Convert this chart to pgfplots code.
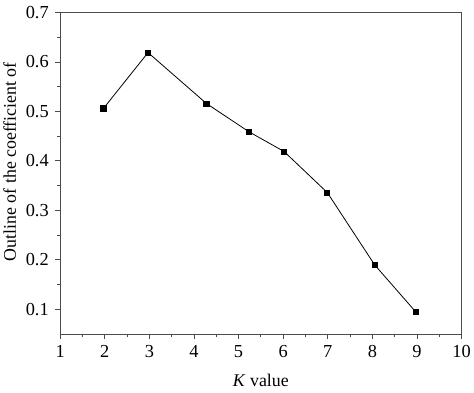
\documentclass[border=0pt]{standalone}
\usepackage{pgfplots}
\pgfplotsset{compat=1.18}
\usepackage{fontspec}
\setmainfont{Liberation Serif}
\begin{document}
\begin{tikzpicture}
\begin{axis}[
  scale only axis,
  width=403.6bp, height=323.3bp,
  xmin=1, xmax=10, ymin=0.05, ymax=0.7,
  xtick={1,2,...,10},
  ytick={0.1,0.2,...,0.7},
  yticklabel style={/pgf/number format/fixed, /pgf/number format/precision=1, xshift=-3bp},
  xticklabel style={yshift=-3bp},
  /pgf/number format/assume math mode=true,
  minor x tick num=1, minor y tick num=1,
  tick align=outside,
  xtick pos=bottom, ytick pos=left,
  major tick length=5bp, minor tick length=3bp,
  axis line style={black!70, line width=0.9bp},
  tick style={black!70, line width=0.8bp},
  ticklabel style={font=\fontsize{18.5}{20}\selectfont},
  label style={font=\fontsize{18}{20}\selectfont},
  xlabel={\textit{K} value},
  xlabel style={yshift=-10bp},
  ylabel={Outline of the coefficient of},
  ylabel style={at={(ticklabel cs:0.536)}, yshift=3bp},
]
\addplot[black, line width=0.8bp, mark=square*, mark size=2.6bp] coordinates {
  (1.97,0.506) (2.97,0.619) (4.28,0.516) (5.23,0.459) (6.02,0.419) (6.99,0.336) (8.05,0.190) (8.98,0.094)
};
\end{axis}
\path (current bounding box.north) ++(0,3bp);
\path (current bounding box.south) ++(0,-2bp);
\end{tikzpicture}
\end{document}
